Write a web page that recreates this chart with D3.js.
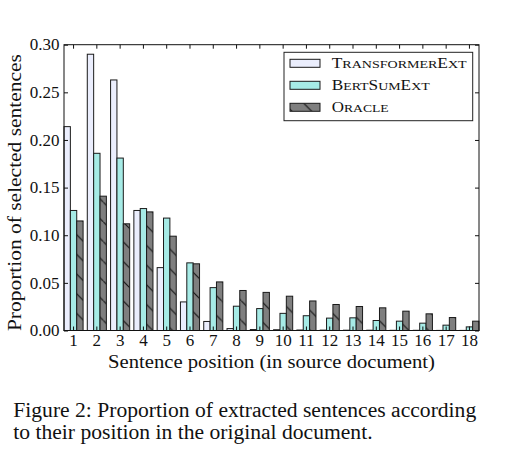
<!DOCTYPE html>
<html>
<head>
<meta charset="utf-8">
<script src="https://cdn.jsdelivr.net/npm/d3@7"></script>
<style>
  body { margin: 0; background: #fff; }
  text { font-family: "Liberation Serif", "Times New Roman", serif; fill: #111; }
</style>
</head>
<body>
<div id="chart"></div>
<script>
// data
var positions = ["1", "2", "3", "4", "5", "6", "7", "8", "9", "10", "11", "12", "13", "14", "15", "16", "17", "18"]
var transformerExt = [0.214, 0.290, 0.263, 0.126, 0.066, 0.030, 0.0095, 0.002, 0.001, 0.0008, 0.0005, 0.0004, 0.0003, 0.0003, 0.0002, 0.0002, 0.0001, 0.0001]
var bertSumExt = [0.126, 0.186, 0.181, 0.128, 0.118, 0.071, 0.045, 0.0255, 0.023, 0.018, 0.0155, 0.013, 0.0133, 0.0105, 0.0098, 0.0077, 0.0056, 0.0038]
var oracle = [0.115, 0.141, 0.112, 0.1245, 0.099, 0.070, 0.051, 0.042, 0.040, 0.036, 0.031, 0.0273, 0.0252, 0.0238, 0.0203, 0.0175, 0.0136, 0.0098]
var yTicks = [0, 0.05, 0.10, 0.15, 0.20, 0.25, 0.30]

var svgWidth = 506
var svgHeight = 463
var margin = { top: 44.7, right: 27, bottom: 132.5, left: 64 }
var width = svgWidth - margin.left - margin.right
var height = svgHeight - margin.top - margin.bottom

var series = [
  { key: "transformer", values: transformerExt, fill: "#ebeefd" },
  { key: "bert", values: bertSumExt, fill: "#a6ebe6" },
  { key: "oracle", values: oracle, fill: "#7f7f7f", hatch: true }
]

var svg = d3.select("#chart")
  .append("svg")
  .attr("width", svgWidth)
  .attr("height", svgHeight)
  .style("background", "#fff")

// hatch for the oracle bars
var hatch = svg.append("defs").append("pattern")
  .attr("id", "hatch")
  .attr("patternUnits", "userSpaceOnUse")
  .attr("width", 19.7)
  .attr("height", 19.7)
hatch.append("rect").attr("width", 19.7).attr("height", 19.7).attr("fill", "#7f7f7f")
hatch.append("path").attr("d", "M-2,-2L21.7,21.7").attr("stroke", "#111").attr("stroke-width", 1.1)

var chartGroup = svg.append("g")
  .attr("transform", `translate(${margin.left}, ${margin.top})`)

var xScale = d3.scaleBand()
  .domain(positions)
  .range([0, width])
  .paddingInner(0.18)
  .paddingOuter(0)

var xSub = d3.scaleBand()
  .domain(series.map(s => s.key))
  .range([0, xScale.bandwidth()])

var yScale = d3.scaleLinear()
  .domain([0, 0.30])
  .range([height, 0])

// bars
series.forEach(function(s) {
  chartGroup.append("g").selectAll("rect")
    .data(s.values)
    .enter()
    .append("rect")
    .attr("x", (d, i) => xScale(positions[i]) + xSub(s.key))
    .attr("y", d => yScale(d))
    .attr("width", xSub.bandwidth())
    .attr("height", d => height - yScale(d))
    .attr("fill", s.hatch ? "url(#hatch)" : s.fill)
    .attr("stroke", "#1a1a1a")
    .attr("stroke-width", 1)
})

// axes: ticks point inward on all four sides
var tickLen = 4
var xCenter = d => xScale(d) + xScale.bandwidth() / 2

var bottomAxis = chartGroup.append("g")
  .attr("transform", `translate(0, ${height})`)
  .call(d3.axisTop(xScale).tickSize(tickLen).tickFormat(""))
var topAxis = chartGroup.append("g")
  .call(d3.axisBottom(xScale).tickSize(tickLen).tickFormat(""))
var leftAxis = chartGroup.append("g")
  .call(d3.axisRight(yScale).tickValues(yTicks).tickSize(tickLen).tickFormat(""))
var rightAxis = chartGroup.append("g")
  .attr("transform", `translate(${width}, 0)`)
  .call(d3.axisLeft(yScale).tickValues(yTicks).tickSize(tickLen).tickFormat(""))

chartGroup.selectAll(".domain").remove()
chartGroup.selectAll(".tick line").attr("stroke", "#111").attr("stroke-width", 1)

chartGroup.append("rect")
  .attr("width", width)
  .attr("height", height)
  .attr("fill", "none")
  .attr("stroke", "#111")
  .attr("stroke-width", 1)

// tick labels
chartGroup.append("g").selectAll("text")
  .data(positions)
  .enter()
  .append("text")
  .attr("x", d => xCenter(d))
  .attr("y", height + 16)
  .attr("text-anchor", "middle")
  .style("font-size", "17px")
  .text(d => d)

chartGroup.append("g").selectAll("text")
  .data(yTicks)
  .enter()
  .append("text")
  .attr("x", -4.5)
  .attr("y", d => yScale(d))
  .attr("dy", "0.34em")
  .attr("text-anchor", "end")
  .style("font-size", "17px")
  .text(d => d3.format(".2f")(d))

// axis labels
chartGroup.append("text")
  .attr("x", width / 2)
  .attr("y", height + 37.5)
  .attr("text-anchor", "middle")
  .attr("textLength", 327)
  .attr("lengthAdjust", "spacingAndGlyphs")
  .style("font-size", "19px")
  .text("Sentence position (in source document)")

chartGroup.append("text")
  .attr("transform", `translate(${20.7 - margin.left}, ${height / 2 + 5}) rotate(-90)`)
  .attr("text-anchor", "middle")
  .attr("textLength", 277)
  .attr("lengthAdjust", "spacingAndGlyphs")
  .style("font-size", "19px")
  .text("Proportion of selected sentences")

// legend
var legendNames = [
  [["T", 1], ["RANSFORMER", 0], ["E", 1], ["XT", 0]],
  [["B", 1], ["ERT", 0], ["S", 1], ["UM", 0], ["E", 1], ["XT", 0]],
  [["O", 1], ["RACLE", 0]]
]
var legendWidths = [135, 98, 57]

var legend = chartGroup.append("g")
  .attr("transform", `translate(${284 - margin.left}, ${52.3 - margin.top})`)

legend.append("rect")
  .attr("width", 188.7)
  .attr("height", 68.4)
  .attr("fill", "#fff")
  .attr("stroke", "#222")
  .attr("stroke-width", 1)

series.forEach(function(s, i) {
  var row = legend.append("g").attr("transform", `translate(0, ${7 + i * 22})`)
  row.append("rect")
    .attr("x", 6)
    .attr("y", 0)
    .attr("width", 30)
    .attr("height", 8)
    .attr("fill", s.hatch ? "url(#hatch)" : s.fill)
    .attr("stroke", "#1a1a1a")
    .attr("stroke-width", 1)
  var label = row.append("text")
    .attr("x", 47.7)
    .attr("y", 9)
    .attr("textLength", legendWidths[i])
    .attr("lengthAdjust", "spacingAndGlyphs")
  legendNames[i].forEach(function(part) {
    label.append("tspan")
      .style("font-size", part[1] ? "14px" : "11.3px")
      .text(part[0])
  })
})

// caption
var caption = svg.append("text")
  .style("font-size", "21.6px")
caption.append("tspan").attr("x", 13.3).attr("y", 416.7)
  .text("Figure 2: Proportion of extracted sentences according")
caption.append("tspan").attr("x", 13.3).attr("y", 439)
  .text("to their position in the original document.")
</script>
</body>
</html>
